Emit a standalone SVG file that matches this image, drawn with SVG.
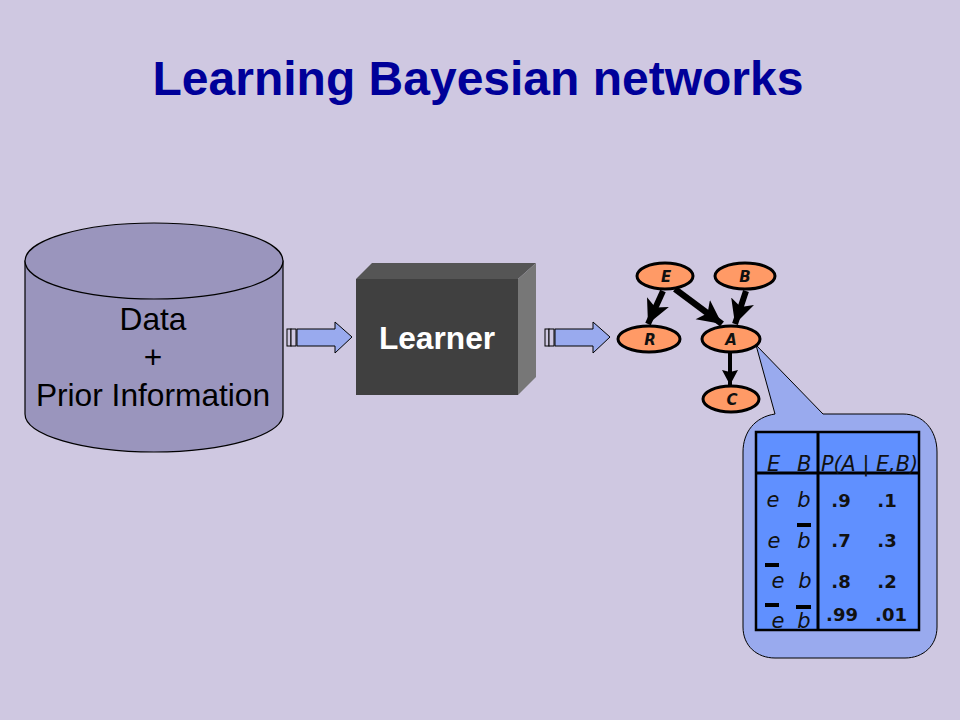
<svg xmlns="http://www.w3.org/2000/svg" width="960" height="720" viewBox="0 0 960 720">
<style>
.sans{font-family:"Liberation Sans",Arial,sans-serif}
.hand{font-family:"DejaVu Sans",sans-serif;font-style:italic;fill:#111}
.nlabel{font-size:15px;font-weight:bold;text-anchor:middle}
.node{fill:#ff9a66;stroke:#000;stroke-width:3}
.cell{font-size:21px;text-anchor:middle}
.num{font-family:"DejaVu Sans",sans-serif;font-size:18px;font-weight:bold;fill:#111;text-anchor:middle}
.edge{stroke:#000;fill:none}
.rule{stroke:#000;stroke-width:3;fill:none}
.bar{fill:#000}
.arrow{fill:#99aaee;stroke:#000;stroke-width:1}
.stub{fill:#cfc8e1;stroke:#000;stroke-width:1}
.data{font-size:31.7px;fill:#000;text-anchor:middle}
</style>
<defs>
<marker id="head" markerUnits="userSpaceOnUse" markerWidth="26" markerHeight="26" refX="24" refY="12" orient="auto"><path d="M0 0L24 12L0 24L6 12Z" fill="#000"/></marker>
<marker id="head-small" markerUnits="userSpaceOnUse" markerWidth="18" markerHeight="18" refX="15" refY="8" orient="auto"><path d="M0 0L15 8L0 16L2 8Z" fill="#000"/></marker>
<g id="block"><rect class="stub" x="0" y="-8" width="4" height="17"/><rect class="stub" x="4" y="-8" width="5" height="17"/><path class="arrow" d="M10 -8H48V-15L65 0L48 16V9H10Z"/></g>
</defs>
<rect width="960" height="720" fill="#cfc8e1"/>
<text id="title" class="sans" x="478" y="95" font-size="48" font-weight="bold" fill="#000099" text-anchor="middle">Learning Bayesian networks</text>

<g id="data">
<path d="M25 261V414C25 435 83 452 154 452S283 435 283 414V261Z" fill="#9a95bd" stroke="#000" stroke-width="1.2"/>
<ellipse cx="154" cy="261" rx="129" ry="38" fill="#9a95bd" stroke="#000" stroke-width="1.2"/>
<text class="sans data" x="153" y="330">Data</text>
<text class="sans data" x="153" y="368">+</text>
<text class="sans data" x="153" y="406">Prior Information</text>
</g>

<g id="arrow-in"><use href="#block" x="287" y="337"/></g>

<g id="learner">
<rect x="356" y="279" width="162" height="116" fill="#404040"/>
<path d="M356 279L372 263H536L518 279Z" fill="#555"/>
<path d="M518 279L536 263V377L518 395Z" fill="#777"/>
<text class="sans" x="437" y="349" font-size="31.7" font-weight="bold" fill="#fff" text-anchor="middle">Learner</text>
</g>

<g id="arrow-out"><use href="#block" x="545" y="337"/></g>

<g id="connectors">
<line class="edge" stroke-width="6" x1="663" y1="291" x2="648" y2="324" marker-end="url(#head)"/>
<line class="edge" stroke-width="6.5" x1="675" y1="289" x2="722" y2="324" marker-end="url(#head)"/>
<line class="edge" stroke-width="6" x1="746" y1="291" x2="735" y2="324" marker-end="url(#head)"/>
<line class="edge" stroke-width="4" x1="730" y1="353" x2="730" y2="385" marker-end="url(#head-small)"/>
</g>

<g id="node-E"><ellipse class="node" cx="665" cy="276" rx="28" ry="13"/><text class="hand nlabel" x="666" y="282">E</text></g>
<g id="node-B"><ellipse class="node" cx="745" cy="276" rx="30" ry="13"/><text class="hand nlabel" x="745" y="282">B</text></g>
<g id="node-R"><ellipse class="node" cx="649" cy="339" rx="31" ry="13"/><text class="hand nlabel" x="650" y="345">R</text></g>
<g id="node-A"><ellipse class="node" cx="731" cy="339" rx="29" ry="13"/><text class="hand nlabel" x="731" y="345">A</text></g>
<g id="node-C"><ellipse class="node" cx="731" cy="399" rx="28" ry="13"/><text class="hand nlabel" x="732" y="405">C</text></g>

<g id="cpt">
<path d="M756 345L775 414C755 417 743 432 743 452V627C743 646 757 658 775 658H905C923 658 937 646 937 627V452C937 430 923 414 903 414H823Z" fill="#99aaee" stroke="#000" stroke-width="1"/>
<rect x="756" y="432" width="163" height="198" fill="#6090ff" stroke="#000" stroke-width="2.5"/>
<path class="rule" d="M756 473H919M818 432V630"/>
<text class="hand" font-size="21" x="767" y="471">E</text>
<text class="hand" font-size="21" x="797" y="471">B</text>
<text class="hand" font-size="21" x="821" y="471" textLength="97" lengthAdjust="spacingAndGlyphs">P(A | E,B)</text>
<text class="hand cell" x="773" y="507">e</text><text class="hand cell" x="804" y="507">b</text>
<text class="hand cell" x="774" y="548">e</text><text class="hand cell" x="804" y="548">b</text>
<text class="hand cell" x="778" y="588">e</text><text class="hand cell" x="805" y="588">b</text>
<text class="hand cell" x="778" y="628">e</text><text class="hand cell" x="804" y="628">b</text>
<rect class="bar" x="797" y="523" width="14" height="4"/>
<rect class="bar" x="765" y="563" width="14" height="4"/>
<rect class="bar" x="765" y="603" width="14" height="4"/>
<rect class="bar" x="796" y="605" width="15" height="4"/>
<text class="num" x="841" y="507">.9</text><text class="num" x="887" y="507">.1</text>
<text class="num" x="841" y="547">.7</text><text class="num" x="887" y="547">.3</text>
<text class="num" x="841" y="588">.8</text><text class="num" x="887" y="588">.2</text>
<text class="num" x="842" y="621">.99</text><text class="num" x="891" y="621">.01</text>
</g>
</svg>
